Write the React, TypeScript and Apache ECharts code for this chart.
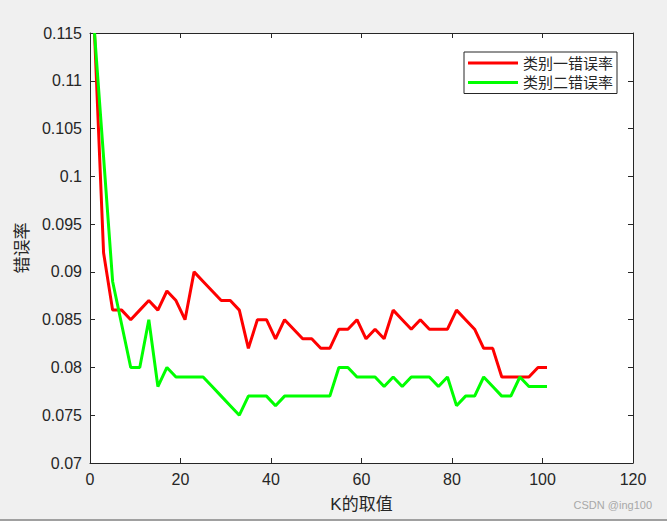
import React, { useEffect, useRef } from 'react'
import * as echarts from 'echarts'

// K values (odd numbers 1..101)
const kValues: number[] = []
for (let k = 1; k <= 101; k += 2) kValues.push(k)

// 类别一错误率
const class1Err = [
  0.115, 0.092, 0.086, 0.086, 0.085, 0.086, 0.087, 0.086, 0.088, 0.087,
  0.085, 0.090, 0.089, 0.088, 0.087, 0.087, 0.086, 0.082, 0.085, 0.085,
  0.083, 0.085, 0.084, 0.083, 0.083, 0.082, 0.082, 0.084, 0.084, 0.085,
  0.083, 0.084, 0.083, 0.086, 0.085, 0.084, 0.085, 0.084, 0.084, 0.084,
  0.086, 0.085, 0.084, 0.082, 0.082, 0.079, 0.079, 0.079, 0.079, 0.080,
  0.080,
]

// 类别二错误率
const class2Err = [
  0.115, 0.102, 0.089, 0.0845, 0.080, 0.080, 0.085, 0.078, 0.080, 0.079,
  0.079, 0.079, 0.079, 0.078, 0.077, 0.076, 0.075, 0.077, 0.077, 0.077,
  0.076, 0.077, 0.077, 0.077, 0.077, 0.077, 0.077, 0.080, 0.080, 0.079,
  0.079, 0.079, 0.078, 0.079, 0.078, 0.079, 0.079, 0.079, 0.078, 0.079,
  0.076, 0.077, 0.077, 0.079, 0.078, 0.077, 0.077, 0.079, 0.078, 0.078,
  0.078,
]

const seriesNames = ['类别一错误率', '类别二错误率']
const axisColor = '#262626'
const sansFont = '"Liberation Sans", Arial, sans-serif'
const cjkFont = '"Liberation Sans", "Noto Sans CJK SC", sans-serif'

export default function App(): JSX.Element {
  const chartRef = useRef<HTMLDivElement>(null)

  useEffect(() => {
    if (!chartRef.current) return
    const chart = echarts.init(chartRef.current, undefined, { renderer: 'svg' })

    const tickOpts = { show: true, inside: true, length: 5, lineStyle: { color: axisColor, width: 1 } }
    const lineOpts = { show: true, onZero: false, lineStyle: { color: axisColor, width: 1 } }

    chart.setOption({
      animation: false,
      backgroundColor: '#f0f0f0',
      grid: { left: 90, top: 33, width: 543, height: 430, show: true, backgroundColor: '#ffffff', borderWidth: 0 },
      legend: {
        data: seriesNames,
        orient: 'vertical',
        left: 464,
        top: 52,
        padding: [3, 4, 3, 4],
        itemGap: 3.5,
        itemWidth: 50,
        itemHeight: 3,
        icon: 'rect',
        backgroundColor: '#ffffff',
        borderColor: axisColor,
        borderWidth: 1,
        borderRadius: 0,
        textStyle: { fontSize: 15, color: axisColor, fontFamily: cjkFont, lineHeight: 16, padding: [0, 0, 0, 0] },
      },
      xAxis: [
        {
          type: 'value',
          min: 0,
          max: 120,
          interval: 20,
          position: 'bottom',
          name: 'K的取值',
          nameLocation: 'middle',
          nameGap: 33,
          nameTextStyle: { fontSize: 17, color: axisColor, fontFamily: cjkFont },
          axisLine: lineOpts,
          axisTick: tickOpts,
          splitLine: { show: false },
          axisLabel: { fontSize: 16, color: axisColor, fontFamily: sansFont, margin: 8 },
        },
        {
          type: 'value',
          min: 0,
          max: 120,
          interval: 20,
          position: 'top',
          axisLine: lineOpts,
          axisTick: tickOpts,
          splitLine: { show: false },
          axisLabel: { show: false },
        },
      ],
      yAxis: [
        {
          type: 'value',
          min: 0.07,
          max: 0.115,
          interval: 0.005,
          position: 'left',
          name: '错误率',
          nameLocation: 'middle',
          nameGap: 56,
          nameRotate: 90,
          nameTextStyle: { fontSize: 17, color: axisColor, fontFamily: cjkFont },
          axisLine: lineOpts,
          axisTick: tickOpts,
          splitLine: { show: false },
          axisLabel: {
            fontSize: 16,
            color: axisColor,
            fontFamily: sansFont,
            margin: 8,
            formatter: (v: number) => String(parseFloat(v.toFixed(3))),
          },
        },
        {
          type: 'value',
          min: 0.07,
          max: 0.115,
          interval: 0.005,
          position: 'right',
          axisLine: lineOpts,
          axisTick: tickOpts,
          splitLine: { show: false },
          axisLabel: { show: false },
        },
      ],
      series: [
        {
          name: seriesNames[0],
          type: 'line',
          data: kValues.map((k, i) => [k, class1Err[i]]),
          showSymbol: false,
          lineStyle: { color: '#ff0000', width: 3 },
          itemStyle: { color: '#ff0000' },
          clip: true,
        },
        {
          name: seriesNames[1],
          type: 'line',
          data: kValues.map((k, i) => [k, class2Err[i]]),
          showSymbol: false,
          lineStyle: { color: '#00ff00', width: 3 },
          itemStyle: { color: '#00ff00' },
          clip: true,
        },
      ],
      graphic: [
        {
          type: 'text',
          right: 15,
          top: 499,
          style: { text: 'CSDN @ing100', fontSize: 11, fill: '#a8a8a8', fontFamily: sansFont },
        },
        {
          type: 'rect',
          left: 0,
          top: 519,
          shape: { width: 667, height: 2 },
          style: { fill: '#a0a0a0' },
        },
      ],
    })

    return () => {
      chart.dispose()
    }
  }, [])

  return (
    <div style={{ position: 'fixed', left: 0, top: 0, width: 667, height: 521, background: '#f0f0f0' }}>
      <div ref={chartRef} style={{ width: 667, height: 521 }} />
    </div>
  )
}
